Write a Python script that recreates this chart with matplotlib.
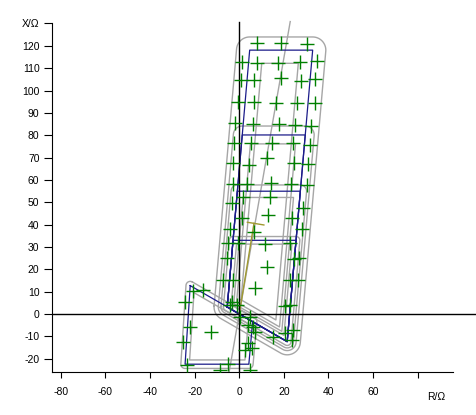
import numpy as np
import matplotlib
matplotlib.use("Agg")
import matplotlib.pyplot as plt

plt.rcParams['font.family'] = ['Liberation Sans', 'DejaVu Sans']

# ---------------- data ----------------
# forward zones (reach X in ohm) and their tolerance band widths
fwd_X = [33.0, 55.0, 80.2, 118.2]
fwd_tol = [1.7, 2.8, 4.0, 5.9]
fwd_bl = (-5.4, 3.1)      # common lower-left corner (R, X)
fwd_br = (21.5, -12.4)    # common lower-right corner (R, X)
zone_angle = 85.0         # side angle of zones (deg)

# reverse zone corners
rev_R = [-22.0, -24.3, 4.3, 6.0]
rev_Xc = [12.7, -22.5, -22.5, -3.4]
rev_tol = 1.9

# line impedance vector
line_R = [0.0, 6.6]
line_X = [0.0, 40.6]
line_angle = 80.1

# test points
pts_R = [7.8, 18.7, 30.5,
         1.1, 7.8, 17.5, 27.4, 35.0,
         0.6, 6.7, 18.7, 27.5, 33.9,
         -0.4, 6.7, 16.5, 25.9, 33.9,
         -1.9, 6.3, 17.7, 25.0, 32.2,
         -2.4, 5.2, 14.7, 24.2, 31.7,
         -2.7, 4.3, 12.3, 24.4, 30.7,
         -2.7, 3.3, 14.4, 23.3, 30.2,
         -3.4, 1.8, 13.8, 28.4,
         1.1, 13.0, 23.5,
         -4.2, 6.4, 28.0,
         -4.9, -0.4, 11.5, 22.7,
         -5.7, 12.3, 24.5, 26.8,
         -7.2, -2.7, 7.0, 22.7, 26.5,
         -16.1, -20.6,
         -24.4, -4.2, -1.2, -3.4,
         20.5, 22.7,
         0.3, 4.8,
         -22.1, 4.0, 6.3, 24.2, 20.5, 23.5,
         -12.7, 7.0, 15.2,
         -25.3, 4.0,
         2.6, 5.5,
         -23.6, -4.9, -8.7, 4.8]
pts_X = [121.2, 121.2, 121.1,
         113.0, 112.6, 112.6, 112.8, 113.4,
         104.8, 104.8, 105.5, 104.5, 105.1,
         95.1, 95.1, 94.6, 94.6, 94.6,
         85.7, 84.9, 84.9, 84.6, 84.2,
         76.4, 76.4, 76.4, 76.7, 75.7,
         67.5, 66.7, 70.0, 67.5, 67.2,
         58.2, 58.2, 58.5, 58.2, 57.8,
         49.6, 52.5, 52.5, 47.3,
         42.8, 44.3, 42.8,
         37.9, 36.9, 37.9,
         31.6, 31.6, 31.2, 31.6,
         24.9, 21.2, 24.5, 24.9,
         15.2, 15.2, 11.8, 15.2, 15.2,
         10.7, 10.2,
         5.5, 4.0, 4.0, 5.5,
         3.6, 4.0,
         -1.2, -1.2,
         -5.7, -4.9, -5.7, -7.2, -8.6, -11.6,
         -7.9, -7.9, -10.2,
         -12.4, -13.1,
         -16.1, -15.4,
         -22.8, -22.4, -24.9, -25.1]

xticks = [-80, -60, -40, -20, 0, 20, 40, 60, 80]
xticklabels = ['-80', '-60', '-40', '-20', '0', '20', '40', '60', '']
yticks = [-20, -10, 0, 10, 20, 30, 40, 50, 60, 70, 80, 90, 100, 110, 120, 130.2]
yticklabels = ['-20', '-10', '0', '10', '20', '30', '40', '50', '60', '70',
               '80', '90', '100', '110', '120', 'X/\u03a9']


# ---------------- geometry helpers ----------------
def outer_contour(poly, d, n=24):
    poly = np.asarray(poly, float)
    N = len(poly)
    out = []
    for i in range(N):
        p0, p1, p2 = poly[i - 1], poly[i], poly[(i + 1) % N]
        e1 = p1 - p0
        e2 = p2 - p1
        n1 = np.array([e1[1], -e1[0]]) / np.hypot(*e1)
        n2 = np.array([e2[1], -e2[0]]) / np.hypot(*e2)
        a1 = np.arctan2(n1[1], n1[0])
        a2 = np.arctan2(n2[1], n2[0])
        if a2 < a1:
            a2 += 2 * np.pi
        t = np.linspace(a1, a2, n)
        out.append(np.column_stack([p1[0] + d * np.cos(t), p1[1] + d * np.sin(t)]))
    out = np.vstack(out)
    return np.vstack([out, out[:1]])


def inner_contour(poly, d):
    poly = np.asarray(poly, float)
    N = len(poly)
    lines = []
    for i in range(N):
        a, b = poly[i], poly[(i + 1) % N]
        e = b - a
        nrm = np.array([e[1], -e[0]]) / np.hypot(*e)
        lines.append((a - d * nrm, e))
    pts = []
    for i in range(N):
        (p, u), (q, v) = lines[i - 1], lines[i]
        A = np.array([u, -v]).T
        s = np.linalg.solve(A, q - p)
        pts.append(p + s[0] * u)
    pts = np.array(pts)
    return np.vstack([pts, pts[:1]])


# ---------------- figure ----------------
fig = plt.figure(figsize=(4.77, 4.15), dpi=100)
ax = fig.add_axes([0.109, 0.1036, 0.888, 0.8482])
ax.set_xlim(-84, 106)
ax.set_ylim(-26, 131.7)

gray = '#a6a6a6'
blue = '#1c1c8a'
cot = 1.0 / np.tan(np.radians(zone_angle))

# long line-angle line through origin
yy = np.array([-26.5, 131.0])
ax.plot(yy / np.tan(np.radians(line_angle)), yy, color=gray, lw=1.0, zorder=2)

# forward zones
for X, d in zip(fwd_X, fwd_tol):
    bl = np.array(fwd_bl)
    br = np.array(fwd_br)
    tr = np.array([br[0] + (X - br[1]) * cot, X])
    tl = np.array([bl[0] + (X - bl[1]) * cot, X])
    poly = np.array([bl, br, tr, tl])
    oc = outer_contour(poly, d)
    ic = inner_contour(poly, d)
    ax.plot(oc[:, 0], oc[:, 1], color=gray, lw=1.0, zorder=2)
    ax.plot(ic[:, 0], ic[:, 1], color=gray, lw=1.0, zorder=2)
    pc = np.vstack([poly, poly[:1]])
    ax.plot(pc[:, 0], pc[:, 1], color=blue, lw=0.9, zorder=3)

# reverse zone
rpoly = np.column_stack([rev_R, rev_Xc])
oc = outer_contour(rpoly, rev_tol)
ic = inner_contour(rpoly, rev_tol)
ax.plot(oc[:, 0], oc[:, 1], color=gray, lw=1.0, zorder=2)
ax.plot(ic[:, 0], ic[:, 1], color=gray, lw=1.0, zorder=2)
rc = np.vstack([rpoly, rpoly[:1]])
ax.plot(rc[:, 0], rc[:, 1], color=blue, lw=0.9, zorder=3)

# line impedance vector with end bar
olive = '#a09a30'
ax.plot(line_R, line_X, color=olive, lw=1.0, zorder=3)
vec = np.array([line_R[1] - line_R[0], line_X[1] - line_X[0]])
perp = np.array([vec[1], -vec[0]]) / np.hypot(*vec)
end = np.array([line_R[1], line_X[1]])
bar = np.array([end - 3.0 * perp, end + 4.5 * perp])
ax.plot(bar[:, 0], bar[:, 1], color=olive, lw=1.0, zorder=3)

# axes through origin
ax.axhline(0, color='black', lw=1.0, zorder=4)
ax.plot([0, 0], [-26, 130.8], color='black', lw=1.0, zorder=4)

# test points
ax.plot(pts_R, pts_X, linestyle='none', marker='+', markersize=10,
        markeredgewidth=1.0, color='#008000', zorder=5)

# spines / ticks
for s in ['top', 'right']:
    ax.spines[s].set_visible(False)
ax.spines['bottom'].set_bounds(-84, 95.7)
ax.spines['left'].set_bounds(-26, 130.4)
ax.set_xticks(xticks)
ax.set_xticklabels(xticklabels)
ax.set_yticks(yticks)
ax.set_yticklabels(yticklabels)
ax.tick_params(axis='y', direction='out', length=6, width=0.8, pad=3, labelsize=7.5)
ax.tick_params(axis='x', direction='out', length=4.5, width=0.8, pad=6.5, labelsize=7.5)
ax.text(88.5, -37.3, 'R/\u03a9', fontsize=7.5, ha='center', va='center')

fig.savefig('out.png', dpi=100)
